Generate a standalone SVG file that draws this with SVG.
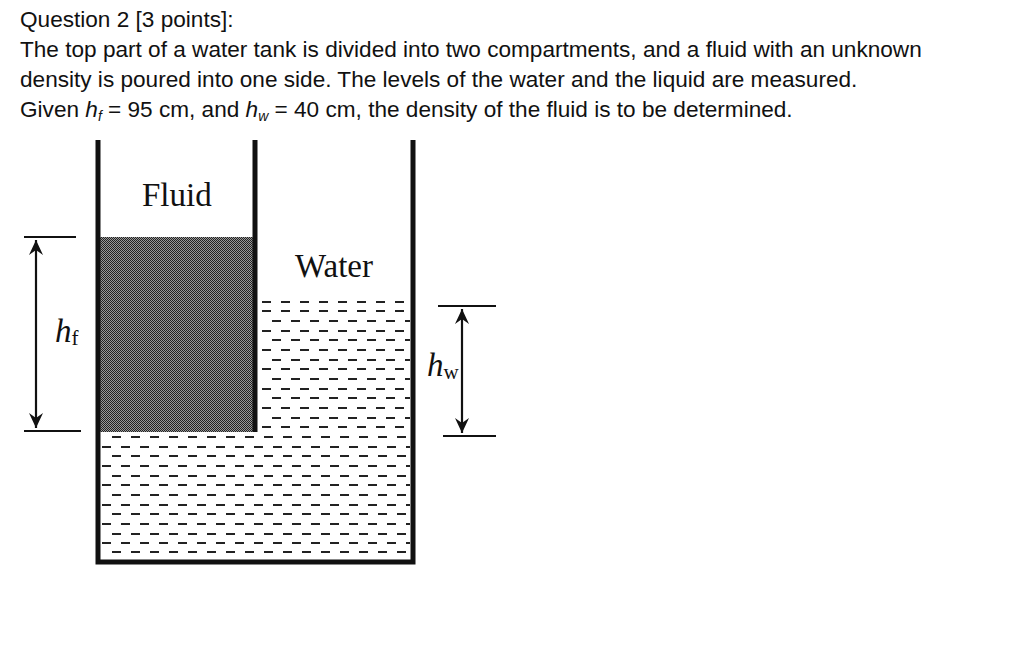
<svg xmlns="http://www.w3.org/2000/svg" width="1009" height="652" viewBox="0 0 1009 652">
<style>
.q{font-family:"Liberation Sans",Arial,sans-serif;font-size:22.6px;fill:#111}
.l{font-family:"Liberation Serif","Times New Roman",serif;fill:#111}
.w{stroke:#111;stroke-width:5;fill:none}
.d{stroke:#111;stroke-width:2.2;fill:none}
.wd{stroke:#222;stroke-width:2;stroke-dasharray:9 10}
</style>
<defs>
<pattern id="chk" width="2" height="2" patternUnits="userSpaceOnUse"><rect width="2" height="2" fill="#999"/><rect width="1" height="1" fill="#222"/><rect x="1" y="1" width="1" height="1" fill="#222"/></pattern>
<marker id="ah" markerWidth="16" markerHeight="14" refX="15" refY="7" orient="auto-start-reverse" markerUnits="userSpaceOnUse"><path d="M0,0 L15,7 L0,14 L5,7 Z" fill="#111"/></marker>
</defs>
<rect width="1009" height="652" fill="#fff"/>
<g id="text">
<text class="q" x="20" y="27">Question 2 [3 points]:</text>
<text class="q" x="20" y="57">The top part of a water tank is divided into two compartments, and a fluid with an unknown</text>
<text class="q" x="20" y="87">density is poured into one side. The levels of the water and the liquid are measured.</text>
<text class="q" x="20" y="117">Given <tspan font-style="italic">h</tspan><tspan font-style="italic" font-size="14" dy="4">f</tspan><tspan dy="-4"> = 95 cm, and </tspan><tspan font-style="italic">h</tspan><tspan font-style="italic" font-size="14" dy="4">w</tspan><tspan dy="-4"> = 40 cm, the density of the fluid is to be determined.</tspan></text>
</g>
<g id="fluid">
<rect x="100" y="237" width="153" height="195" fill="url(#chk)"/>
<text class="l" x="142" y="206" font-size="33">Fluid</text>
</g>
<g id="water">
<line class="wd" x1="262" y1="302" x2="410" y2="302" stroke-width="1.3"/>
<g class="wd">
<line x1="262" y1="311" x2="410" y2="311"/>
<line x1="262" y1="321" x2="410" y2="321" stroke-dashoffset="9"/>
<line x1="262" y1="331" x2="410" y2="331"/>
<line x1="262" y1="340" x2="410" y2="340" stroke-dashoffset="9"/>
<line x1="262" y1="350" x2="410" y2="350"/>
<line x1="262" y1="360" x2="410" y2="360" stroke-dashoffset="9"/>
<line x1="262" y1="369" x2="410" y2="369"/>
<line x1="262" y1="379" x2="410" y2="379" stroke-dashoffset="9"/>
<line x1="262" y1="389" x2="410" y2="389"/>
<line x1="262" y1="398" x2="410" y2="398" stroke-dashoffset="9"/>
<line x1="262" y1="408" x2="410" y2="408"/>
<line x1="262" y1="418" x2="410" y2="418" stroke-dashoffset="9"/>
<line x1="262" y1="427" x2="410" y2="427"/>
<line x1="102" y1="437" x2="410" y2="437" stroke-dashoffset="9"/>
<line x1="102" y1="447" x2="410" y2="447"/>
<line x1="102" y1="456" x2="410" y2="456" stroke-dashoffset="9"/>
<line x1="102" y1="466" x2="410" y2="466"/>
<line x1="102" y1="476" x2="410" y2="476" stroke-dashoffset="9"/>
<line x1="102" y1="485" x2="410" y2="485"/>
<line x1="102" y1="495" x2="410" y2="495" stroke-dashoffset="9"/>
<line x1="102" y1="505" x2="410" y2="505"/>
<line x1="102" y1="514" x2="410" y2="514" stroke-dashoffset="9"/>
<line x1="102" y1="524" x2="410" y2="524"/>
<line x1="102" y1="534" x2="410" y2="534" stroke-dashoffset="9"/>
<line x1="102" y1="543" x2="410" y2="543"/>
<line x1="102" y1="552" x2="410" y2="552" stroke-dashoffset="9"/>
</g>
<text class="l" x="295" y="277" font-size="33">Water</text>
</g>
<g id="tank">
<path class="w" d="M98,140 V562 H413 V140"/>
<line class="w" x1="255" y1="140" x2="255" y2="432"/>
</g>
<g id="connectors">
<line class="d" x1="24" y1="237" x2="76" y2="237"/>
<line class="d" x1="24" y1="431" x2="81" y2="431"/>
<line class="d" x1="36" y1="240" x2="36" y2="428" marker-start="url(#ah)" marker-end="url(#ah)"/>
<line class="d" x1="438" y1="306" x2="496" y2="306"/>
<line class="d" x1="443" y1="436" x2="496" y2="436"/>
<line class="d" x1="462" y1="309" x2="462" y2="433" marker-start="url(#ah)" marker-end="url(#ah)"/>
</g>
<g id="labels">
<text class="l" x="55" y="342" font-size="33" font-style="italic">h<tspan font-size="21" font-style="normal" dy="3">f</tspan></text>
<text class="l" x="427" y="376" font-size="33" font-style="italic">h<tspan font-size="21" font-style="normal" dy="3">w</tspan></text>
</g>
</svg>
